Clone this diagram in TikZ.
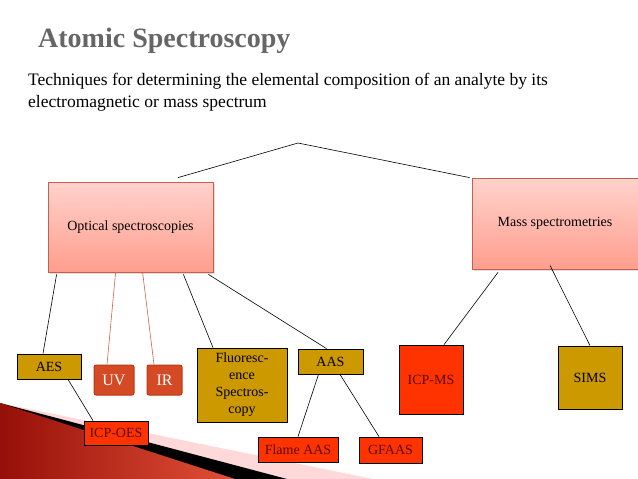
\documentclass[tikz,border=0pt]{standalone}
\usepackage{fontspec}
\setmainfont{Liberation Serif}
\usepackage{tikz}
\usetikzlibrary{shadows}
\usepackage{xcolor}

\definecolor{gold}{RGB}{204,153,0}
\definecolor{redorange}{RGB}{255,51,0}
\definecolor{bandred}{RGB}{212,74,36}
\definecolor{bandedge}{RGB}{185,58,22}
\definecolor{catedge}{RGB}{200,95,75}
\definecolor{catline}{RGB}{205,100,70}
\definecolor{darktext}{RGB}{90,10,0}

\begin{document}
\begin{tikzpicture}[
    x=1pt, y=-1pt,
    catbox/.style={rectangle, draw=catedge, line width=0.8pt, top color={rgb,255:red,255;green,210;blue,204}, bottom color={rgb,255:red,255;green,158;blue,142}, drop shadow={opacity=0.25, shadow xshift=1.5pt, shadow yshift=-2pt}, font=\fontsize{14}{17}\selectfont},
    goldbox/.style={rectangle, draw, line width=0.8pt, fill=gold, inner sep=0pt, font=\fontsize{14}{17}\selectfont},
    redbox/.style={rectangle, draw, line width=0.8pt, fill=redorange, inner sep=0pt, text=darktext, font=\fontsize{14}{17}\selectfont},
    lightbox/.style={rectangle, rounded corners=2pt, draw=bandedge, line width=1pt, fill=bandred, inner sep=0pt, text=white, font=\fontsize{16}{18}\selectfont},
    link/.style={line width=0.6pt},
    lightlink/.style={line width=0.6pt, draw=catline}
]
    \useasboundingbox (0,0) rectangle (638,479);

    % Slanted bands in the lower left corner
    \fill[red!15] (0,403) -- (373,479) -- (0,479) -- cycle;
    \fill[black] (0,403) -- (287,479) -- (0,479) -- cycle;
    \shade[left color={rgb,255:red,150;green,15;blue,8}, right color={rgb,255:red,225;green,80;blue,55}] (0,403) -- (235,479) -- (0,479) -- cycle;

    % Title and subtitle
    \node[anchor=base west, inner sep=0pt, text=black!60, font=\fontsize{28}{32}\selectfont\bfseries] (title) at (38,47) {Atomic Spectroscopy};
    \node[anchor=north west, inner sep=0pt, align=left, font=\fontsize{17.5}{22}\selectfont] (subtitle) at (28,73)
        {Techniques for determining the elemental composition of an analyte by its\\electromagnetic or mass spectrum};

    % Two main branches
    \node[catbox, minimum width=165pt, minimum height=90pt] (optical) at (130.5,227) {Optical spectroscopies};
    \node[catbox, minimum width=166pt, minimum height=91pt] (mass) at (555,223.5) {Mass spectrometries};

    \coordinate (apex) at (298,143);
    \draw[link] ([xshift=47.5pt, yshift=4pt]optical.north) -- (apex) -- ([xshift=-2pt]mass.north west);

    % Optical techniques
    \node[goldbox, minimum width=64pt, minimum height=25pt] (aes) at (49,366.5) {AES};
    \node[lightbox, minimum width=40pt, minimum height=30pt] (uv) at (114,380) {UV};
    \node[lightbox, minimum width=35pt, minimum height=30pt] (ir) at (164.5,380) {IR};
    \node[goldbox, minimum width=90pt, minimum height=74pt, align=center] (fluor) at (242,385) {Fluoresc-\\ence\\Spectros-\\copy};
    \node[goldbox, minimum width=65pt, minimum height=25pt] (aas) at (330.5,361.5) {AAS};
    \node[redbox, minimum width=64pt, minimum height=24pt] (icpoes) at (116,433) {ICP-OES};
    \node[redbox, minimum width=80pt, minimum height=25pt] (flame) at (298,449.5) {Flame AAS};
    \node[redbox, minimum width=63pt, minimum height=26pt] (gfaas) at (390.5,450) {GFAAS};

    \draw[link] ([xshift=9pt, yshift=-2pt]optical.south west) -- ([xshift=-6pt]aes.north);
    \draw[lightlink] ([xshift=68pt]optical.south west) -- ([xshift=-7pt]uv.north);
    \draw[lightlink] ([xshift=95pt]optical.south west) -- ([xshift=-10.5pt]ir.north);
    \draw[link] ([xshift=-30pt, yshift=-2pt]optical.south east) -- ([xshift=-29pt]fluor.north);
    \draw[link] ([xshift=-5pt, yshift=-2pt]optical.south east) -- ([xshift=-4pt]aas.north);
    \draw[link] ([xshift=19pt]aes.south) -- ([xshift=-23pt]icpoes.north);
    \draw[link] ([xshift=-12pt]aas.south) -- (flame.north);
    \draw[link] ([xshift=9.5pt]aas.south) -- ([xshift=-11.5pt]gfaas.north);

    % Mass techniques
    \node[redbox, minimum width=64pt, minimum height=69pt] (icpms) at (431,379.5) {ICP-MS};
    \node[goldbox, minimum width=64pt, minimum height=63pt] (sims) at (590,377.5) {SIMS};

    \draw[link] ([xshift=-57pt, yshift=-3pt]mass.south) -- ([xshift=13pt]icpms.north);
    \draw[link] ([xshift=-5pt, yshift=4pt]mass.south) -- (sims.north);

\end{tikzpicture}
\end{document}
